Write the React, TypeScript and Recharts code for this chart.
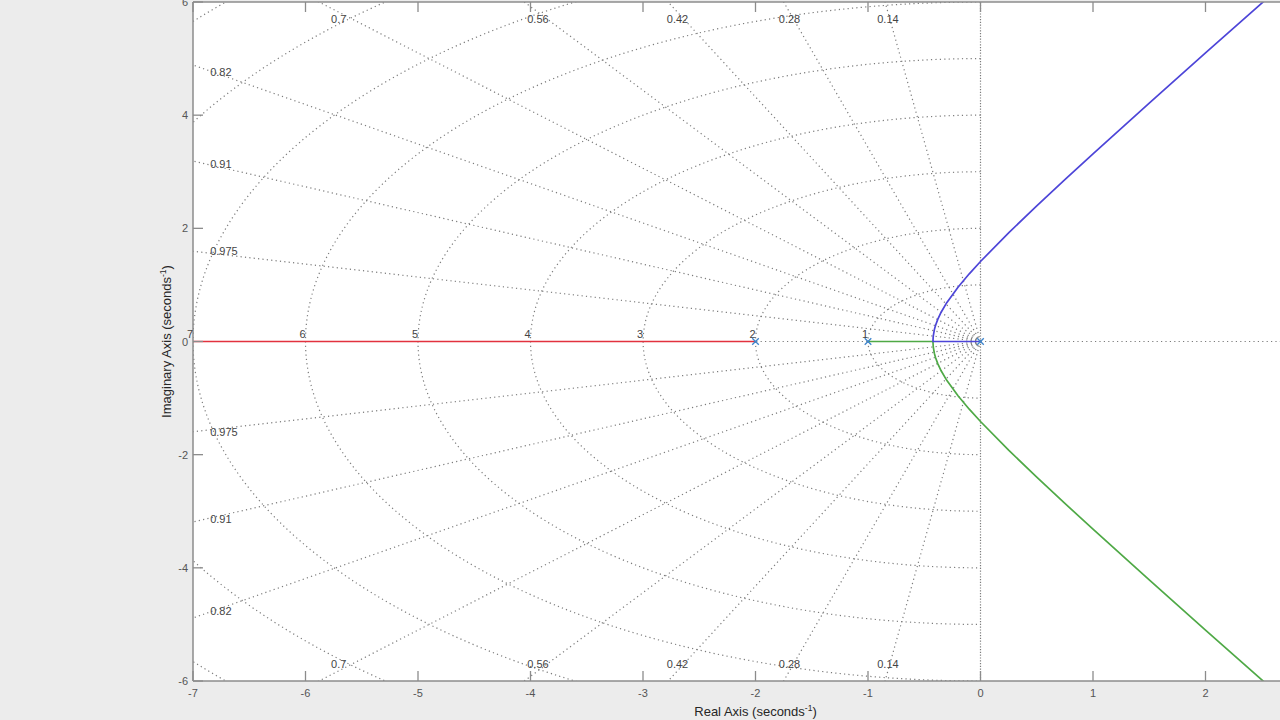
import React from 'react';
import {
  ComposedChart,
  Line,
  XAxis,
  YAxis,
  ReferenceLine,
  ReferenceArea,
  ReferenceDot,
  Scatter,
  CartesianGrid,
} from 'recharts';

// ---------- data ----------
const xTicks = [-7, -6, -5, -4, -3, -2, -1, 0, 1, 2];
const yTicks = [-6, -4, -2, 0, 2, 4, 6];
const xDomain = [-7, 3];
const yDomain = [-6, 6];

// s-plane grid (sgrid): damping ratios and natural frequencies
const dampingRatios = [0.14, 0.28, 0.42, 0.56, 0.7, 0.82, 0.91, 0.975];
const naturalFreqs = [1, 2, 3, 4, 5, 6, 7, 8, 9];
const labeledFreqs = [1, 2, 3, 4, 5, 6, 7];

// open-loop poles
const poles = [
  { x: 0, y: 0 },
  { x: -1, y: 0 },
  { x: -2, y: 0 },
];

// root-locus branches
const branchRed = [
  { x: -2, y: 0 },
  { x: -7.5, y: 0 },
];

const branchGreen = [
  { x: -1, y: 0 },
  { x: -0.4226, y: 0 },
  { x: -0.42, y: -0.096 },
  { x: -0.41, y: -0.21 },
  { x: -0.4, y: -0.283 },
  { x: -0.38, y: -0.391 },
  { x: -0.35, y: -0.517 },
  { x: -0.3, y: -0.686 },
  { x: -0.2, y: -0.959 },
  { x: -0.1, y: -1.196 },
  { x: 0, y: -1.414 },
  { x: 0.25, y: -1.92 },
  { x: 0.5, y: -2.398 },
  { x: 0.75, y: -2.861 },
  { x: 1, y: -3.317 },
  { x: 1.5, y: -4.213 },
  { x: 2, y: -5.099 },
  { x: 2.6, y: -6.155 },
];

const branchBlue = [
  { x: 0, y: 0 },
  { x: -0.4226, y: 0 },
  { x: -0.42, y: 0.096 },
  { x: -0.41, y: 0.21 },
  { x: -0.4, y: 0.283 },
  { x: -0.38, y: 0.391 },
  { x: -0.35, y: 0.517 },
  { x: -0.3, y: 0.686 },
  { x: -0.2, y: 0.959 },
  { x: -0.1, y: 1.196 },
  { x: 0, y: 1.414 },
  { x: 0.25, y: 1.92 },
  { x: 0.5, y: 2.398 },
  { x: 0.75, y: 2.861 },
  { x: 1, y: 3.317 },
  { x: 1.5, y: 4.213 },
  { x: 2, y: 5.099 },
  { x: 2.6, y: 6.155 },
];

// ---------- styles ----------
const FONT = '"Liberation Sans", Arial, Helvetica, sans-serif';
const AXIS_COLOR = '#8c8c8c';
const TICK_TEXT = '#555555';
const GRID_COLOR = '#7c7c7c';
const GRID_DASH = '1.2 3.2';
const GRID_TEXT = '#444444';
const TICK_LEN = 10;

// ---------- grid geometry helpers ----------
const slopeOf = (z: number) => Math.sqrt(1 - z * z) / z;
const RAY_R = 14;

type ZLabel = { key: string; z: number; x: number; y: number; pos: string };
const zetaLabels: ZLabel[] = dampingRatios.flatMap((z) => {
  const t = slopeOf(z);
  if (t * 7 > 6) {
    const x = -5.82 / t;
    return [
      { key: `t${z}`, z, x, y: 5.82, pos: 'top' },
      { key: `b${z}`, z, x, y: -5.82, pos: 'bottom' },
    ];
  }
  const y = 6.75 * t;
  return [
    { key: `lt${z}`, z, x: -6.75, y, pos: 'leftTop' },
    { key: `lb${z}`, z, x: -6.75, y: -y, pos: 'leftBottom' },
  ];
});

// ---------- custom renderers ----------
const BottomTick = (props: any) => {
  const { x, y, payload } = props;
  return (
    <g>
      <line x1={x} y1={y} x2={x} y2={y - TICK_LEN} stroke={AXIS_COLOR} strokeWidth={1.3} />
      <text x={x} y={y + 16} textAnchor="middle" fontSize={11} fontFamily={FONT} fill={TICK_TEXT}>
        {payload.value}
      </text>
    </g>
  );
};

const TopTick = (props: any) => {
  const { x, y } = props;
  return <line x1={x} y1={y} x2={x} y2={y + TICK_LEN} stroke={AXIS_COLOR} strokeWidth={1.3} />;
};

const LeftTick = (props: any) => {
  const { x, y, payload } = props;
  return (
    <g>
      <line x1={x} y1={y} x2={x + TICK_LEN} y2={y} stroke={AXIS_COLOR} strokeWidth={1.3} />
      <text x={x - 5} y={y + 4} textAnchor="end" fontSize={11} fontFamily={FONT} fill={TICK_TEXT}>
        {payload.value}
      </text>
    </g>
  );
};

const XTitle = (props: any) => {
  const vb = props.viewBox || {};
  const cx = vb.x + vb.width / 2;
  const y = vb.y + 35;
  return (
    <text x={cx} y={y} textAnchor="middle" fontSize={13} fontFamily={FONT} fill="#262626">
      Real Axis (seconds
      <tspan dy={-5} fontSize={8.5}>-1</tspan>
      <tspan dy={5}>)</tspan>
    </text>
  );
};

const YTitle = (props: any) => {
  const vb = props.viewBox || {};
  const cy = vb.y + vb.height / 2;
  const x = vb.x + vb.width - 22;
  return (
    <text
      x={x}
      y={cy}
      textAnchor="middle"
      fontSize={13}
      fontFamily={FONT}
      fill="#262626"
      transform={`rotate(-90 ${x} ${cy})`}
    >
      Imaginary Axis (seconds
      <tspan dy={-5} fontSize={8.5}>-1</tspan>
      <tspan dy={5}>)</tspan>
    </text>
  );
};

const SemiCircle = (props: any) => {
  const { x, y, width, height, clipPath } = props;
  if (![x, y, width, height].every((v) => Number.isFinite(v))) return null;
  const cx = x + width / 2;
  const rx = width / 2;
  const ry = height / 2;
  return (
    <path
      d={`M ${cx} ${y} A ${rx} ${ry} 0 0 0 ${cx} ${y + height}`}
      fill="none"
      stroke={GRID_COLOR}
      strokeWidth={1.2}
      strokeDasharray={GRID_DASH}
      clipPath={clipPath}
    />
  );
};

const PoleMark = (props: any) => {
  const { cx, cy } = props;
  const s = 3.3;
  return (
    <g stroke="#3d84cc" strokeWidth={1.3}>
      <line x1={cx - s} y1={cy - s} x2={cx + s} y2={cy + s} />
      <line x1={cx - s} y1={cy + s} x2={cx + s} y2={cy - s} />
    </g>
  );
};

const makeWnLabel = (wn: number) => (props: any) => {
  const { cx, cy } = props;
  return (
    <text x={cx - 3} y={cy - 4} textAnchor="middle" fontSize={11} fontFamily={FONT} fill={GRID_TEXT}>
      {wn}
    </text>
  );
};

const makeZetaLabel = (lab: ZLabel) => (props: any) => {
  const { cx, cy } = props;
  let tx = cx;
  let ty = cy;
  let anchor: 'middle' | 'start' = 'middle';
  if (lab.pos === 'top') ty = cy + 11;
  else if (lab.pos === 'bottom') ty = cy - 3;
  else if (lab.pos === 'leftTop') {
    tx = cx - 11;
    ty = cy + 1;
    anchor = 'start';
  } else {
    tx = cx - 11;
    ty = cy + 7;
    anchor = 'start';
  }
  return (
    <text x={tx} y={ty} textAnchor={anchor} fontSize={11} fontFamily={FONT} fill={GRID_TEXT}>
      {String(lab.z)}
    </text>
  );
};

export default function App() {
  return (
    <div
      style={{
        position: 'fixed',
        left: 0,
        top: 0,
        width: 1280,
        height: 720,
        overflow: 'hidden',
        background: '#ececec',
      }}
    >
      <ComposedChart width={1330} height={720} margin={{ top: 1, right: 12, bottom: 38, left: 192 }}>
        <CartesianGrid fill="#ffffff" horizontal={false} vertical={false} />
        <XAxis
          type="number"
          dataKey="x"
          domain={xDomain}
          ticks={xTicks}
          interval={0}
          allowDataOverflow
          height={1}
          tickSize={0}
          tickMargin={0}
          tickLine={false}
          tick={<BottomTick />}
          axisLine={{ stroke: AXIS_COLOR, strokeWidth: 1.5 }}
          label={<XTitle />}
        />
        <XAxis
          xAxisId="top"
          orientation="top"
          type="number"
          dataKey="x"
          domain={xDomain}
          ticks={xTicks}
          interval={0}
          allowDataOverflow
          height={1}
          tickSize={0}
          tickMargin={0}
          tickLine={false}
          tick={<TopTick />}
          axisLine={{ stroke: AXIS_COLOR, strokeWidth: 1.5 }}
        />
        <YAxis
          type="number"
          dataKey="y"
          domain={yDomain}
          ticks={yTicks}
          interval={0}
          allowDataOverflow
          width={1}
          tickSize={0}
          tickMargin={0}
          tickLine={false}
          tick={<LeftTick />}
          axisLine={{ stroke: AXIS_COLOR, strokeWidth: 1.5 }}
          label={<YTitle />}
        />

        {/* natural frequency semicircles */}
        {naturalFreqs.map((wn) => (
          <ReferenceArea
            key={`wn${wn}`}
            x1={-wn}
            x2={wn}
            y1={-wn}
            y2={wn}
            ifOverflow="hidden"
            shape={SemiCircle}
          />
        ))}

        {/* damping ratio rays */}
        {dampingRatios.flatMap((z) => [
          <ReferenceLine
            key={`zu${z}`}
            segment={[
              { x: 0, y: 0 },
              { x: -RAY_R * z, y: RAY_R * Math.sqrt(1 - z * z) },
            ]}
            ifOverflow="hidden"
            stroke={GRID_COLOR}
            strokeWidth={1.2}
            strokeDasharray={GRID_DASH}
          />,
          <ReferenceLine
            key={`zl${z}`}
            segment={[
              { x: 0, y: 0 },
              { x: -RAY_R * z, y: -RAY_R * Math.sqrt(1 - z * z) },
            ]}
            ifOverflow="hidden"
            stroke={GRID_COLOR}
            strokeWidth={1.2}
            strokeDasharray={GRID_DASH}
          />,
        ])}

        {/* real & imaginary axes */}
        <ReferenceLine y={0} ifOverflow="hidden" stroke={GRID_COLOR} strokeWidth={1.2} strokeDasharray={GRID_DASH} />
        <ReferenceLine x={0} ifOverflow="hidden" stroke={GRID_COLOR} strokeWidth={1.2} strokeDasharray="1.2 1.6" />

        {/* grid labels */}
        {labeledFreqs.map((wn) => (
          <ReferenceDot key={`wl${wn}`} x={-wn} y={0} r={0} ifOverflow="visible" shape={makeWnLabel(wn)} />
        ))}
        {zetaLabels.map((lab) => (
          <ReferenceDot
            key={lab.key}
            x={lab.x}
            y={lab.y}
            r={0}
            ifOverflow="visible"
            shape={makeZetaLabel(lab)}
          />
        ))}

        {/* root locus branches */}
        <Line
          data={branchRed}
          dataKey="y"
          type="linear"
          stroke="#e2323e"
          strokeWidth={1.7}
          dot={false}
          activeDot={false}
          isAnimationActive={false}
        />
        <Line
          data={branchGreen}
          dataKey="y"
          type="linear"
          stroke="#4fa946"
          strokeWidth={1.7}
          dot={false}
          activeDot={false}
          isAnimationActive={false}
        />
        <Line
          data={branchBlue}
          dataKey="y"
          type="linear"
          stroke="#4d45d8"
          strokeWidth={1.7}
          dot={false}
          activeDot={false}
          isAnimationActive={false}
        />
        <Scatter data={poles} dataKey="y" shape={PoleMark} isAnimationActive={false} />
      </ComposedChart>
    </div>
  );
}
